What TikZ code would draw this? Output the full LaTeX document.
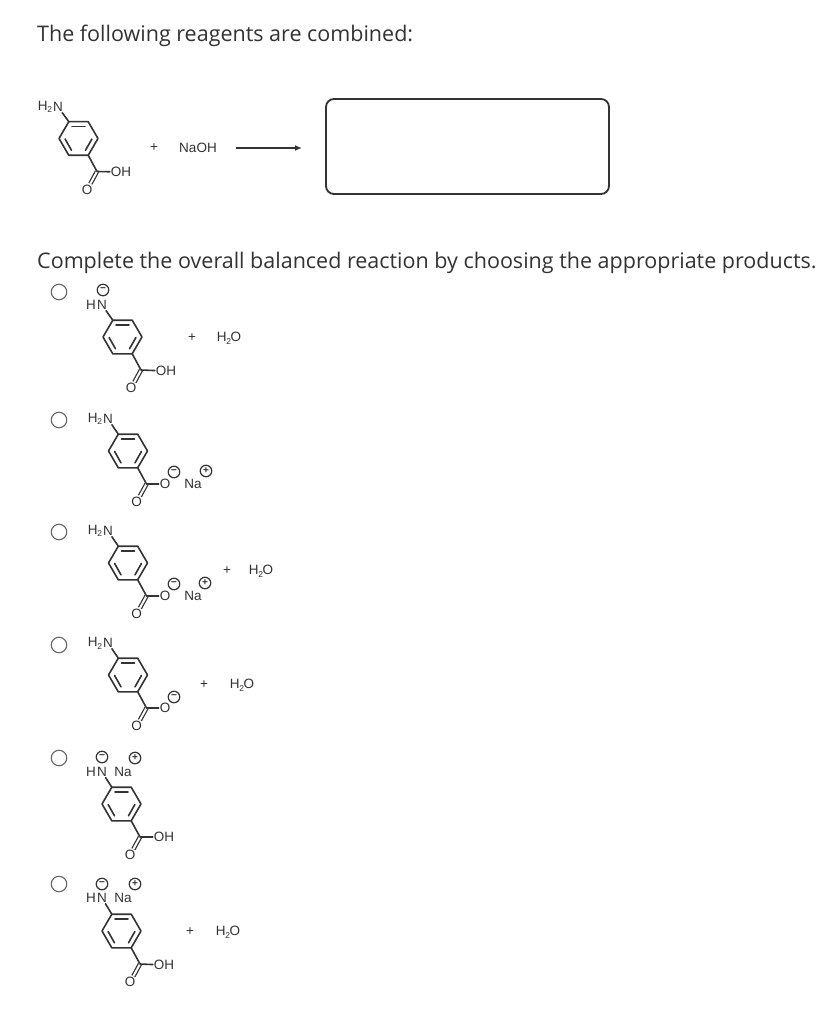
\documentclass[tikz,border=0pt]{standalone}
\usepackage{fontspec}
\usetikzlibrary{arrows.meta}
\setmainfont{Open Sans}
\newfontfamily\chemfont{Liberation Sans}
\definecolor{ink}{HTML}{333333}
\definecolor{radiogray}{HTML}{666666}
\newcommand{\chemsub}[1]{\kern-0.3pt\raisebox{-0.2em}{\fontsize{8.5}{8.5}\selectfont #1}\kern-0.3pt}
\tikzset{
  x=1pt,y=-1pt,
  bond/.style={draw=ink,line width=1.6pt,line cap=round,line join=round},
  atom/.style={inner sep=0.9pt,text=ink,font=\chemfont\fontsize{13.5}{14}\selectfont},
  chg/.style={circle,draw=ink,line width=1.2pt,minimum size=11.5pt,inner sep=0pt,text=ink,font=\chemfont\bfseries\fontsize{10}{10}\selectfont},
  heading/.style={anchor=west,inner sep=0pt,text=ink,font=\fontsize{21.5}{24}\selectfont},
  radio/.style={circle,draw=radiogray,line width=1.1pt,minimum size=15.5pt,inner sep=0pt},
  answerbox/.style={draw=ink,line width=1.8pt,rounded corners=8pt,minimum width=283pt,minimum height=95pt,inner sep=0pt},
  benzoic/.pic={
    \coordinate (-tl) at (-9.7,-16.8);
    \coordinate (-tr) at (9.7,-16.8);
    \coordinate (-r) at (19.5,0);
    \coordinate (-br) at (9.7,16.8);
    \coordinate (-bl) at (-9.7,16.8);
    \coordinate (-l) at (-19.5,0);
    \coordinate (-c) at (18.5,33);
    \node[atom] (-o) at (8.7,51) {O};
    \draw[bond] (-tl) -- (-tr) -- (-r) -- (-br) -- (-bl) -- (-l) -- cycle;
    \draw[bond] (-6.5,-12) -- (6.5,-12);
    \draw[bond] (13.4,0.5) -- (7,11.8);
    \draw[bond] (-13.4,0.5) -- (-7,11.8);
    \draw[bond] (-br) -- (-c);
    \draw[bond,double=white,double distance=2pt,line width=1.25pt,line cap=butt] (-c) -- (-o);
  }
}
\begin{document}
\begin{tikzpicture}
\useasboundingbox[fill=white] (0,0) rectangle (826,1024);

\node[heading] (title) at (37,36) {The following reagents are combined:};
\node[heading] (prompt) at (37,263) {Complete the overall balanced reaction by choosing the appropriate products.};

% reactants
\pic (a) at (78.5,138.5) {benzoic};
\node[atom] (an) at (58,107) {N};
\node[atom,anchor=east,inner sep=0pt] (ah) at (an.west) {H\chemsub{2}};
\draw[bond] (an) -- (a-tl);
\node[atom] (aoh) at (121,172) {OH};
\draw[bond] (a-c) -- (aoh);
\node[atom] (aplus) at (154,148) {+};
\node[atom] (naoh) at (198,148) {NaOH};
\node[answerbox] (box) at (467.5,146.5) {};
\coordinate (arrowstart) at (236,148);
\coordinate (arrowend) at (302,148);
\draw[draw=ink,line width=1.5pt,-{Latex[length=7pt,width=6pt]}] (arrowstart) -- (arrowend);

% option 1
\node[radio] (r1) at (59,292) {};
\pic (b) at (122.5,337) {benzoic};
\node[atom] (bn) at (102,305) {N};
\node[atom,anchor=east,inner sep=0pt] (bh) at (bn.west) {H};
\node[chg] (bm) at (103,290) {\textminus};
\draw[bond] (bn) -- (b-tl);
\node[atom] (boh) at (166,371) {OH};
\draw[bond] (b-c) -- (boh);
\node[atom] (bplus) at (192,338) {+};
\node[atom] (bw) at (229,338) {H\chemsub{2}O};

% option 2
\node[radio] (r2) at (59,420) {};
\pic (c) at (128,451) {benzoic};
\node[atom] (cn) at (108,419) {N};
\node[atom,anchor=east,inner sep=0pt] (ch) at (cn.west) {H\chemsub{2}};
\draw[bond] (cn) -- (c-tl);
\node[atom] (co) at (165,484) {O};
\draw[bond] (c-c) -- (co);
\node[chg] (cm) at (174,472) {\textminus};
\node[atom] (cna) at (193,484) {Na};
\node[chg] (cp) at (206,471) {+};

% option 3
\node[radio] (r3) at (59,532) {};
\pic (d) at (128,563) {benzoic};
\node[atom] (dn) at (108,531) {N};
\node[atom,anchor=east,inner sep=0pt] (dh) at (dn.west) {H\chemsub{2}};
\draw[bond] (dn) -- (d-tl);
\node[atom] (do) at (165,596) {O};
\draw[bond] (d-c) -- (do);
\node[chg] (dm) at (174,584) {\textminus};
\node[atom] (dna) at (193,596) {Na};
\node[chg] (dp) at (205,583) {+};
\node[atom] (dplus) at (227,571) {+};
\node[atom] (dw) at (261,571) {H\chemsub{2}O};

% option 4
\node[radio] (r4) at (59,645) {};
\pic (e) at (128,675) {benzoic};
\node[atom] (en) at (108,643) {N};
\node[atom,anchor=east,inner sep=0pt] (eh) at (en.west) {H\chemsub{2}};
\draw[bond] (en) -- (e-tl);
\node[atom] (eo) at (165,708) {O};
\draw[bond] (e-c) -- (eo);
\node[chg] (em) at (174,697) {\textminus};
\node[atom] (eplus) at (204,685) {+};
\node[atom] (ew) at (242,685) {H\chemsub{2}O};

% option 5
\node[radio] (r5) at (59,758) {};
\pic (f) at (121.5,804) {benzoic};
\node[atom] (fn) at (102,772) {N};
\node[atom,anchor=east,inner sep=0pt] (fh) at (fn.west) {H};
\node[chg] (fm) at (102,757) {\textminus};
\draw[bond] (fn) -- (f-tl);
\node[atom] (fna) at (123,772) {Na};
\node[chg] (fp) at (135,758) {+};
\node[atom] (foh) at (164,837) {OH};
\draw[bond] (f-c) -- (foh);

% option 6
\node[radio] (r6) at (59,884) {};
\pic (g) at (121.5,931) {benzoic};
\node[atom] (gn) at (102,898) {N};
\node[atom,anchor=east,inner sep=0pt] (gh) at (gn.west) {H};
\node[chg] (gm) at (102,884) {\textminus};
\draw[bond] (gn) -- (g-tl);
\node[atom] (gna) at (123,898) {Na};
\node[chg] (gp) at (135,884) {+};
\node[atom] (goh) at (164,965) {OH};
\draw[bond] (g-c) -- (goh);
\node[atom] (gplus) at (190,932) {+};
\node[atom] (gw) at (228,932) {H\chemsub{2}O};
\end{tikzpicture}
\end{document}
